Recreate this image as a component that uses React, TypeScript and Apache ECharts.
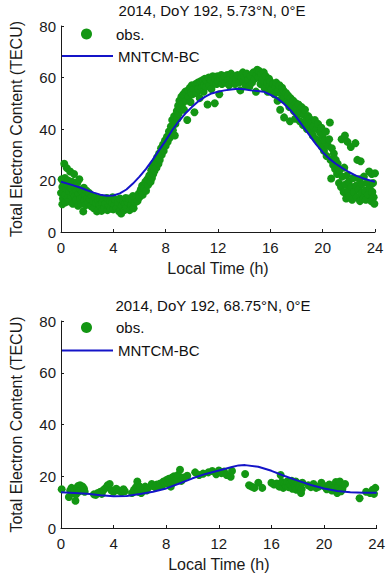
import React, { useEffect, useRef } from "react";
import * as echarts from "echarts";

const titles = ["2014, DoY 192, 5.73°N, 0°E", "2014, DoY 192, 68.75°N, 0°E"];
const xTicks = [0, 4, 8, 12, 16, 20, 24];
const yTicks = [0, 20, 40, 60, 80];
const seriesNames = ["obs.", "MNTCM-BC"];

const obsTop: [number, number][] = [
  [0.0,15.2],[0.05,20.5],[0.1,10.8],[0.1,17.5],[0.15,13.0],[0.2,19.0],[0.25,26.5],[0.3,14.5],[0.3,21.0],[0.35,11.5],[0.4,16.8],[0.45,24.8],[0.5,13.2],[0.5,18.5],[0.55,20.0],[0.6,12.0],[0.65,15.5],[0.7,23.5],[0.75,17.0],[0.8,13.8],[0.85,19.5],[0.9,11.0],[0.95,15.0],
  [1.0,22.5],[1.05,14.0],[1.1,17.8],[1.15,12.5],[1.2,16.0],[1.25,19.2],[1.3,10.2],[1.35,14.8],[1.4,20.5],[1.45,12.8],[1.5,16.5],[1.55,11.0],[1.6,15.5],[1.65,13.5],[1.7,8.0],[1.75,17.2],[1.8,12.2],[1.85,14.5],[1.9,10.5],[1.95,16.0],
  [2.0,13.0],[2.1,11.5],[2.15,15.2],[2.2,12.8],[2.3,10.0],[2.35,14.0],[2.45,12.0],[2.5,9.2],[2.6,13.5],[2.7,11.2],[2.75,8.0],[2.85,12.5],[2.95,10.5],
  [3.0,13.0],[3.1,8.2],[3.15,11.5],[3.25,12.8],[3.3,9.5],[3.4,11.0],[3.5,13.2],[3.55,8.5],[3.65,10.2],[3.75,12.0],[3.8,9.0],[3.9,11.2],[3.95,13.5],
  [4.0,8.8],[4.1,10.5],[4.15,12.5],[4.25,9.2],[4.35,11.5],[4.45,8.0],[4.5,13.0],[4.6,7.2],[4.65,10.0],[4.75,12.0],[4.85,8.5],[4.9,10.8],[4.95,13.2],
  [5.0,9.5],[5.1,11.5],[5.2,13.0],[5.25,8.5],[5.35,10.5],[5.45,12.5],[5.5,14.0],[5.55,9.2],[5.65,11.5],[5.75,13.5],[5.85,12.0],[5.95,15.0],
  [6.0,13.5],[6.1,16.5],[6.2,18.0],[6.25,14.5],[6.35,17.0],[6.45,19.5],[6.5,16.0],[6.6,20.5],[6.65,18.2],[6.75,22.0],[6.85,19.5],[6.9,24.0],[6.95,21.0],
  [7.0,25.5],[7.05,22.5],[7.15,23.8],[7.2,27.0],[7.3,25.0],[7.35,29.0],[7.45,26.5],[7.5,30.5],[7.55,28.0],[7.65,32.5],[7.7,30.0],[7.8,34.0],[7.85,31.5],[7.95,35.5],
  [8.0,33.5],[8.1,37.0],[8.15,35.0],[8.25,39.0],[8.3,36.5],[8.4,41.0],[8.45,38.0],[8.5,43.5],[8.55,39.5],[8.65,45.0],[8.7,37.5],[8.75,42.0],[8.85,47.0],[8.9,44.0],[8.95,49.0],
  [9.0,46.0],[9.05,51.0],[9.1,48.0],[9.2,52.5],[9.25,49.5],[9.35,53.5],[9.4,47.5],[9.5,54.5],[9.55,51.0],[9.65,43.5],[9.7,55.0],[9.75,52.5],[9.85,56.0],[9.9,50.5],[9.95,54.0],
  [10.0,57.0],[10.05,53.5],[10.15,55.5],[10.2,46.5],[10.3,57.5],[10.35,54.0],[10.45,58.0],[10.5,55.5],[10.6,52.0],[10.65,58.5],[10.75,56.0],[10.85,59.0],[10.9,54.5],[10.95,57.0],
  [11.0,59.5],[11.1,56.5],[11.15,58.5],[11.2,49.5],[11.3,60.0],[11.35,57.0],[11.45,59.0],[11.5,55.5],[11.6,60.5],[11.7,58.0],[11.75,50.0],[11.8,59.5],[11.9,57.5],[11.95,60.5],
  [12.0,58.5],[12.1,53.5],[12.15,60.0],[12.25,61.0],[12.3,57.5],[12.4,59.5],[12.5,60.5],[12.6,58.0],[12.7,61.0],[12.75,59.0],[12.85,57.0],[12.95,60.0],
  [13.0,61.5],[13.1,58.5],[13.2,60.5],[13.3,57.5],[13.4,59.5],[13.5,61.0],[13.6,58.0],[13.7,55.0],[13.8,60.0],[13.9,62.0],[13.95,58.5],
  [14.0,60.5],[14.1,57.0],[14.2,61.5],[14.3,59.0],[14.4,56.5],[14.5,60.5],[14.6,58.0],[14.7,62.0],[14.8,59.5],[14.9,54.5],[14.95,61.0],
  [15.0,63.0],[15.1,60.0],[15.15,62.5],[15.25,57.5],[15.3,61.5],[15.4,59.0],[15.5,62.0],[15.55,56.0],[15.65,60.5],[15.75,58.0],[15.8,54.5],[15.9,59.5],[15.95,56.5],
  [16.0,58.5],[16.1,55.5],[16.2,57.5],[16.3,53.5],[16.4,56.5],[16.45,58.0],[16.55,51.0],[16.6,55.0],[16.7,57.0],[16.75,47.5],[16.85,53.5],[16.9,56.0],[16.95,51.5],
  [17.0,55.0],[17.05,44.5],[17.1,52.5],[17.2,54.0],[17.3,50.5],[17.35,53.0],[17.45,48.5],[17.5,43.0],[17.55,52.0],[17.65,49.5],[17.75,51.0],[17.8,47.0],[17.9,44.0],[17.95,50.0],
  [18.0,48.5],[18.1,45.5],[18.15,49.5],[18.25,43.0],[18.3,47.0],[18.4,48.5],[18.5,41.5],[18.55,45.5],[18.65,47.5],[18.75,43.5],[18.8,40.0],[18.9,45.0],[18.95,42.0],
  [19.0,44.0],[19.1,39.0],[19.15,42.5],[19.25,37.5],[19.3,41.0],[19.4,43.5],[19.5,36.0],[19.55,40.0],[19.65,42.0],[19.75,34.5],[19.8,38.5],[19.9,40.5],[19.95,33.0],
  [20.0,37.0],[20.1,31.5],[20.15,35.5],[20.25,39.0],[20.3,29.5],[20.4,33.5],[20.5,36.0],[20.55,42.5],[20.6,28.0],[20.65,20.8],[20.7,32.5],[20.8,26.0],[20.85,30.5],[20.95,24.5],
  [21.0,28.0],[21.1,22.5],[21.15,26.5],[21.25,19.0],[21.3,24.0],[21.4,17.5],[21.45,36.0],[21.5,21.5],[21.6,15.5],[21.65,25.0],[21.7,37.5],[21.75,18.5],[21.8,13.0],[21.85,22.0],[21.9,35.0],[21.95,16.0],
  [22.0,19.5],[22.05,14.0],[22.15,33.0],[22.2,17.5],[22.25,12.5],[22.35,21.0],[22.4,15.5],[22.5,34.5],[22.55,18.0],[22.6,13.5],[22.65,28.0],[22.75,16.5],[22.8,20.5],[22.85,12.0],[22.9,27.5],[22.95,15.0],
  [23.0,18.5],[23.1,13.0],[23.15,21.5],[23.25,16.0],[23.3,12.5],[23.4,19.0],[23.5,14.5],[23.55,23.5],[23.6,17.0],[23.7,12.0],[23.75,22.5],[23.8,15.5],[23.85,19.0],[23.9,13.5],[23.95,11.0],[24.0,22.8],
];

const modelTop: [number, number][] = [
  [0,19.5],[0.5,18.8],[1,18.0],[1.5,17.2],[2,16.2],[2.5,15.3],[3,14.5],[3.5,14.1],[4,14.2],[4.5,15.0],
  [5,16.5],[5.5,18.8],[6,21.5],[6.5,24.5],[7,28.0],[7.5,31.8],[8,35.5],[8.5,39.5],[9,43.0],[9.5,46.0],
  [10,48.5],[10.5,50.8],[11,52.5],[11.5,53.8],[12,54.5],[12.5,55.0],[13,55.3],[13.5,55.6],[14,55.4],[14.5,55.0],
  [15,54.8],[15.5,54.5],[16,53.3],[16.5,52.0],[17,50.0],[17.5,47.5],[18,44.5],[18.5,41.0],[19,37.5],[19.5,34.0],
  [20,31.0],[20.5,28.5],[21,26.5],[21.5,24.8],[22,23.3],[22.5,22.0],[23,21.0],[23.5,20.2],[24,19.5],
];

const obsBottom: [number, number][] = [
  [0.05,15.0],[0.6,12.0],[0.7,14.5],[0.8,15.5],[0.9,13.5],[1.0,14.8],[1.1,10.5],[1.15,13.0],[1.2,15.5],[1.3,16.2],[1.4,14.2],[1.45,16.5],[1.55,15.0],[1.65,16.0],[1.75,15.2],[1.8,14.0],
  [2.5,13.0],[2.65,12.8],[2.8,13.5],[3.0,14.0],[3.1,13.2],[3.25,14.8],[3.4,15.5],[3.55,16.5],[3.7,17.0],[3.85,14.5],[4.0,14.0],[4.2,15.2],[4.4,14.5],[4.6,13.8],[4.75,15.0],[4.85,14.2],
  [5.4,13.5],[5.55,14.8],[5.7,15.8],[5.8,18.0],[5.9,14.0],[6.0,16.0],[6.1,13.5],[6.25,15.2],[6.4,16.0],[6.5,14.5],[6.6,15.5],[6.9,17.0],[7.0,16.2],[7.15,15.8],[7.3,16.8],[7.45,16.0],
  [7.55,17.2],[7.7,16.5],[7.8,18.0],[7.9,17.2],[8.0,18.5],[8.1,17.5],[8.2,19.0],[8.3,18.2],[8.35,16.0],[8.45,19.5],[8.5,17.8],[8.6,20.0],[8.7,18.5],[8.8,19.2],[8.9,20.5],[9.05,22.5],[9.15,18.2],[9.3,19.5],[9.6,20.2],
  [10.2,21.5],[10.5,20.5],[10.8,21.0],[11.2,21.5],[11.5,22.0],[11.8,20.8],[12.0,22.2],[12.2,21.2],[12.4,21.8],[12.6,20.5],[12.9,19.8],[13.0,22.0],
  [14.0,20.9],[14.3,16.5],[14.5,16.0],[14.7,15.5],[15.0,17.5],[15.3,15.5],
  [16.0,17.5],[16.2,16.8],[16.4,17.2],[16.6,16.0],[16.7,20.5],[16.8,17.8],[16.9,15.5],[17.0,17.0],[17.1,16.2],[17.2,18.0],[17.3,15.8],[17.4,17.2],[17.5,16.5],[17.55,18.2],[17.6,15.2],
  [17.7,17.5],[17.8,16.0],[17.85,18.0],[17.9,14.8],[18.0,17.2],[18.1,15.8],[18.2,16.8],[18.25,13.5],[18.3,15.0],[18.35,17.5],
  [18.8,16.5],[19.0,15.8],[19.2,17.0],[19.4,15.5],[19.6,16.0],[19.8,17.5],[20.0,16.2],[20.2,15.0],[20.4,16.8],[20.6,14.5],[20.8,15.8],[20.9,17.8],[21.0,13.5],[21.1,16.0],[21.2,18.0],[21.3,14.2],[21.4,15.2],[21.6,17.0],
  [22.7,11.5],[23.2,14.0],[23.5,13.5],[23.7,14.8],[23.8,13.2],[23.9,15.5],
];

const modelBottom: [number, number][] = [
  [0,13.8],[1,13.5],[2,13.2],[3,12.7],[4,12.3],[5,12.4],[6,13.1],[7,14.0],[8,15.3],[9,17.2],
  [10,19.2],[11,20.9],[12,22.2],[13,23.6],[13.5,24.2],[14,24.3],[15,23.7],[16,22.1],[17,20.1],
  [18,18.3],[19,16.6],[20,15.3],[21,14.3],[22,13.8],[23,13.6],[24,13.6],
];

const GREEN = "#139613";
const BLUE = "#1414c8";
const FONT = "Liberation Sans, Arial, sans-serif";
const AXIS_COLOR = "#1a1a1a";

export default function App() {
  const ref = useRef<HTMLDivElement>(null);
  useEffect(() => {
    if (!ref.current) return;
    const chart = echarts.init(ref.current, undefined, { renderer: "svg" });
    const grids = [
      { left: 53, top: 26, width: 322, height: 206 },
      { left: 54, top: 321, width: 324, height: 207 },
    ];
    const mkX = (i: number) => ({
      type: "value",
      gridIndex: i,
      min: xTicks[0],
      max: xTicks[xTicks.length - 1],
      interval: 4,
      name: "Local Time (h)",
      nameLocation: "middle",
      nameGap: 28,
      nameTextStyle: { fontFamily: FONT, fontSize: 16, color: AXIS_COLOR },
      axisLine: { show: true, lineStyle: { color: AXIS_COLOR, width: 1 } },
      axisTick: { show: true, inside: true, length: 3, lineStyle: { color: AXIS_COLOR } },
      axisLabel: { fontFamily: FONT, fontSize: 15, color: AXIS_COLOR, margin: 8 },
      splitLine: { show: false },
    });
    const mkY = (i: number) => ({
      type: "value",
      gridIndex: i,
      min: yTicks[0],
      max: yTicks[yTicks.length - 1],
      interval: 20,
      name: "Total Electron Content (TECU)",
      nameLocation: "middle",
      nameGap: 37,
      nameTextStyle: { fontFamily: FONT, fontSize: 16, color: AXIS_COLOR },
      axisLine: { show: true, lineStyle: { color: AXIS_COLOR, width: 1 } },
      axisTick: { show: true, inside: true, length: 3, lineStyle: { color: AXIS_COLOR } },
      axisLabel: { fontFamily: FONT, fontSize: 15, color: AXIS_COLOR, margin: 5 },
      splitLine: { show: false },
    });
    // legend for the observation dots: icon box equals the dot, text pushed right
    const obsLegend = (top: number) => ({
      left: 81,
      top,
      padding: 0,
      orient: "vertical",
      itemWidth: 11,
      itemHeight: 11,
      selectedMode: false,
      textStyle: { fontFamily: FONT, fontSize: 15, color: "#111", padding: [0, 0, 0, 19] },
      data: [{ name: seriesNames[0], icon: "circle" }],
    });
    const lineLegend = (top: number) => ({
      left: 61,
      top,
      padding: 0,
      orient: "vertical",
      itemWidth: 51,
      itemHeight: 11,
      selectedMode: false,
      textStyle: { fontFamily: FONT, fontSize: 15, color: "#111" },
      data: [
        {
          name: seriesNames[1],
          itemStyle: { color: "rgba(0,0,0,0)", borderWidth: 0, opacity: 0 },
          lineStyle: { color: BLUE, width: 2 },
        },
      ],
    });
    const obsSets = [obsTop, obsBottom];
    const modelSets = [modelTop, modelBottom];
    const series: any[] = [];
    [0, 1].forEach((i) => {
      series.push({
        type: "scatter",
        name: seriesNames[0],
        xAxisIndex: i,
        yAxisIndex: i,
        data: obsSets[i],
        symbol: "circle",
        symbolSize: 8,
        itemStyle: { color: GREEN, opacity: 1 },
        z: 2,
      });
      series.push({
        type: "line",
        name: seriesNames[1],
        xAxisIndex: i,
        yAxisIndex: i,
        data: modelSets[i],
        symbol: "none",
        showSymbol: false,
        lineStyle: { color: BLUE, width: 2 },
        itemStyle: { color: BLUE },
        z: 3,
      });
    });
    chart.setOption({
      animation: false,
      backgroundColor: "#fff",
      grid: grids,
      xAxis: [mkX(0), mkX(1)],
      yAxis: [mkY(0), mkY(1)],
      legend: [obsLegend(26.5), lineLegend(48.5), obsLegend(320), lineLegend(343)],
      series,
      graphic: [
        {
          type: "text",
          x: 212,
          y: 10,
          style: { text: titles[0], fontFamily: FONT, fontSize: 15, fill: "#111", align: "center", verticalAlign: "middle" },
        },
        {
          type: "text",
          x: 213,
          y: 305,
          style: { text: titles[1], fontFamily: FONT, fontSize: 15, fill: "#111", align: "center", verticalAlign: "middle" },
        },
      ],
    });
    return () => chart.dispose();
  }, []);
  return (
    <div
      ref={ref}
      style={{ position: "fixed", left: 0, top: 0, width: 388, height: 574, background: "#fff" }}
    />
  );
}
